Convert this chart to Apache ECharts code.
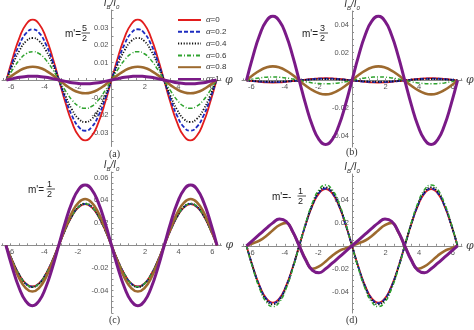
<!DOCTYPE html>
<html>
<head>
<meta charset="utf-8">
<script src="https://cdn.jsdelivr.net/npm/echarts@6/dist/echarts.min.js"></script>
<style>
html,body{margin:0;padding:0;background:#fff}
#c{width:474px;height:330px}
</style>
</head>
<body>
<div id="c"></div>
<script>
// Sample grid for the phase angle φ (steps of π/8 from -2π to 2π)
const phi = [-6.2832,-5.8905,-5.4978,-5.1051,-4.7124,-4.3197,-3.9270,-3.5343,-3.1416,-2.7489,-2.3562,-1.9635,-1.5708,-1.1781,-0.7854,-0.3927,0,
  0.3927,0.7854,1.1781,1.5708,1.9635,2.3562,2.7489,3.1416,3.5343,3.9270,4.3197,4.7124,5.1051,5.4978,5.8905,6.2832];

const alphaNames = ['α=0','α=0.2','α=0.4','α=0.6','α=0.8','α=1'];

// (a) m' = 5/2
const a_0  = [0,0.0132,0.0244,0.0319,0.0345,0.0319,0.0244,0.0132,0,-0.0132,-0.0244,-0.0319,-0.0345,-0.0319,-0.0244,-0.0132,0,0.0132,0.0244,0.0319,0.0345,0.0319,0.0244,0.0132,0,-0.0132,-0.0244,-0.0319,-0.0345,-0.0319,-0.0244,-0.0132,0];
const a_02 = [0,0.0111,0.0205,0.0268,0.0290,0.0268,0.0205,0.0111,0,-0.0111,-0.0205,-0.0268,-0.0290,-0.0268,-0.0205,-0.0111,0,0.0111,0.0205,0.0268,0.0290,0.0268,0.0205,0.0111,0,-0.0111,-0.0205,-0.0268,-0.0290,-0.0268,-0.0205,-0.0111,0];
const a_04 = [0,0.0092,0.0170,0.0222,0.0240,0.0222,0.0170,0.0092,0,-0.0092,-0.0170,-0.0222,-0.0240,-0.0222,-0.0170,-0.0092,0,0.0092,0.0170,0.0222,0.0240,0.0222,0.0170,0.0092,0,-0.0092,-0.0170,-0.0222,-0.0240,-0.0222,-0.0170,-0.0092,0];
const a_06 = [0,0.0062,0.0115,0.0150,0.0162,0.0150,0.0115,0.0062,0,-0.0062,-0.0115,-0.0150,-0.0162,-0.0150,-0.0115,-0.0062,0,0.0062,0.0115,0.0150,0.0162,0.0150,0.0115,0.0062,0,-0.0062,-0.0115,-0.0150,-0.0162,-0.0150,-0.0115,-0.0062,0];
const a_08 = [0,0.0029,0.0054,0.0070,0.0076,0.0070,0.0054,0.0029,0,-0.0029,-0.0054,-0.0070,-0.0076,-0.0070,-0.0054,-0.0029,0,0.0029,0.0054,0.0070,0.0076,0.0070,0.0054,0.0029,0,-0.0029,-0.0054,-0.0070,-0.0076,-0.0070,-0.0054,-0.0029,0];
const a_1  = [0,0.0008,0.0016,0.0020,0.0022,0.0020,0.0016,0.0008,0,-0.0008,-0.0016,-0.0020,-0.0022,-0.0020,-0.0016,-0.0008,0,0.0008,0.0016,0.0020,0.0022,0.0020,0.0016,0.0008,0,-0.0008,-0.0016,-0.0020,-0.0022,-0.0020,-0.0016,-0.0008,0];

// (b) m' = 3/2
const b_0  = [0,-0.0006,-0.0011,-0.0015,-0.0016,-0.0015,-0.0011,-0.0006,0,0.0006,0.0011,0.0015,0.0016,0.0015,0.0011,0.0006,0,-0.0006,-0.0011,-0.0015,-0.0016,-0.0015,-0.0011,-0.0006,0,0.0006,0.0011,0.0015,0.0016,0.0015,0.0011,0.0006,0];
const b_02 = [0,-0.0005,-0.0009,-0.0012,-0.0013,-0.0012,-0.0009,-0.0005,0,0.0005,0.0009,0.0012,0.0013,0.0012,0.0009,0.0005,0,-0.0005,-0.0009,-0.0012,-0.0013,-0.0012,-0.0009,-0.0005,0,0.0005,0.0009,0.0012,0.0013,0.0012,0.0009,0.0005,0];
const b_04 = [0,-0.0004,-0.0007,-0.0009,-0.0010,-0.0009,-0.0007,-0.0004,0,0.0004,0.0007,0.0009,0.0010,0.0009,0.0007,0.0004,0,-0.0004,-0.0007,-0.0009,-0.0010,-0.0009,-0.0007,-0.0004,0,0.0004,0.0007,0.0009,0.0010,0.0009,0.0007,0.0004,0];
const b_06 = [0,0.0010,0.0018,0.0023,0.0025,0.0023,0.0018,0.0010,0,-0.0010,-0.0018,-0.0023,-0.0025,-0.0023,-0.0018,-0.0010,0,0.0010,0.0018,0.0023,0.0025,0.0023,0.0018,0.0010,0,-0.0010,-0.0018,-0.0023,-0.0025,-0.0023,-0.0018,-0.0010,0];
const b_08 = [0,0.0039,0.0071,0.0093,0.0101,0.0093,0.0071,0.0039,0,-0.0039,-0.0071,-0.0093,-0.0101,-0.0093,-0.0071,-0.0039,0,0.0039,0.0071,0.0093,0.0101,0.0093,0.0071,0.0039,0,-0.0039,-0.0071,-0.0093,-0.0101,-0.0093,-0.0071,-0.0039,0];
const b_1  = [0,0.0177,0.0327,0.0427,0.0462,0.0427,0.0327,0.0177,0,-0.0177,-0.0327,-0.0427,-0.0462,-0.0427,-0.0327,-0.0177,0,0.0177,0.0327,0.0427,0.0462,0.0427,0.0327,0.0177,0,-0.0177,-0.0327,-0.0427,-0.0462,-0.0427,-0.0327,-0.0177,0];

// (c) m' = 1/2
const c_0  = [0,-0.0140,-0.0258,-0.0337,-0.0365,-0.0337,-0.0258,-0.0140,0,0.0140,0.0258,0.0337,0.0365,0.0337,0.0258,0.0140,0,-0.0140,-0.0258,-0.0337,-0.0365,-0.0337,-0.0258,-0.0140,0,0.0140,0.0258,0.0337,0.0365,0.0337,0.0258,0.0140,0];
const c_02 = [0,-0.0140,-0.0260,-0.0339,-0.0367,-0.0339,-0.0260,-0.0140,0,0.0140,0.0260,0.0339,0.0367,0.0339,0.0260,0.0140,0,-0.0140,-0.0260,-0.0339,-0.0367,-0.0339,-0.0260,-0.0140,0,0.0140,0.0260,0.0339,0.0367,0.0339,0.0260,0.0140,0];
const c_04 = [0,-0.0142,-0.0262,-0.0342,-0.0370,-0.0342,-0.0262,-0.0142,0,0.0142,0.0262,0.0342,0.0370,0.0342,0.0262,0.0142,0,-0.0142,-0.0262,-0.0342,-0.0370,-0.0342,-0.0262,-0.0142,0,0.0142,0.0262,0.0342,0.0370,0.0342,0.0262,0.0142,0];
const c_06 = [0,-0.0141,-0.0260,-0.0340,-0.0368,-0.0340,-0.0260,-0.0141,0,0.0141,0.0260,0.0340,0.0368,0.0340,0.0260,0.0141,0,-0.0141,-0.0260,-0.0340,-0.0368,-0.0340,-0.0260,-0.0141,0,0.0141,0.0260,0.0340,0.0368,0.0340,0.0260,0.0141,0];
const c_08 = [0,-0.0157,-0.0290,-0.0379,-0.0410,-0.0379,-0.0290,-0.0157,0,0.0157,0.0290,0.0379,0.0410,0.0379,0.0290,0.0157,0,-0.0157,-0.0290,-0.0379,-0.0410,-0.0379,-0.0290,-0.0157,0,0.0157,0.0290,0.0379,0.0410,0.0379,0.0290,0.0157,0];
const c_1  = [0,-0.0205,-0.0378,-0.0494,-0.0535,-0.0494,-0.0378,-0.0205,0,0.0205,0.0378,0.0494,0.0535,0.0494,0.0378,0.0205,0,-0.0205,-0.0378,-0.0494,-0.0535,-0.0494,-0.0378,-0.0205,0,0.0205,0.0378,0.0494,0.0535,0.0494,0.0378,0.0205,0];

// (d) m' = -1/2
const d_0  = [0,-0.0188,-0.0346,-0.0453,-0.0490,-0.0453,-0.0346,-0.0188,0,0.0188,0.0346,0.0453,0.0490,0.0453,0.0346,0.0188,0,-0.0188,-0.0346,-0.0453,-0.0490,-0.0453,-0.0346,-0.0188,0,0.0188,0.0346,0.0453,0.0490,0.0453,0.0346,0.0188,0];
const d_02 = [0,-0.0189,-0.0350,-0.0457,-0.0495,-0.0457,-0.0350,-0.0189,0,0.0189,0.0350,0.0457,0.0495,0.0457,0.0350,0.0189,0,-0.0189,-0.0350,-0.0457,-0.0495,-0.0457,-0.0350,-0.0189,0,0.0189,0.0350,0.0457,0.0495,0.0457,0.0350,0.0189,0];
const d_04 = [0,-0.0193,-0.0357,-0.0467,-0.0505,-0.0467,-0.0357,-0.0193,0,0.0193,0.0357,0.0467,0.0505,0.0467,0.0357,0.0193,0,-0.0193,-0.0357,-0.0467,-0.0505,-0.0467,-0.0357,-0.0193,0,0.0193,0.0357,0.0467,0.0505,0.0467,0.0357,0.0193,0];
const d_06 = [0,-0.0201,-0.0371,-0.0485,-0.0525,-0.0485,-0.0371,-0.0201,0,0.0201,0.0371,0.0485,0.0525,0.0485,0.0371,0.0201,0,-0.0201,-0.0371,-0.0485,-0.0525,-0.0485,-0.0371,-0.0201,0,0.0201,0.0371,0.0485,0.0525,0.0485,0.0371,0.0201,0];
const d_08 = [0,0.0022,0.0046,0.0085,0.0135,0.0178,0.0198,0.0120,0,-0.0120,-0.0198,-0.0178,-0.0135,-0.0085,-0.0046,-0.0022,0,0.0022,0.0046,0.0085,0.0135,0.0178,0.0198,0.0120,0,-0.0120,-0.0198,-0.0178,-0.0135,-0.0085,-0.0046,-0.0022,0];
const d_1  = [0,0.0050,0.0100,0.0150,0.0198,0.0232,0.0212,0.0125,0,-0.0125,-0.0212,-0.0232,-0.0198,-0.0150,-0.0100,-0.0050,0,0.0050,0.0100,0.0150,0.0198,0.0232,0.0212,0.0125,0,-0.0125,-0.0212,-0.0232,-0.0198,-0.0150,-0.0100,-0.0050,0];

// Tick labels
const xTickLabels = [-6,-4,-2,2,4,6];
const yTickLabelsA = [-0.03,-0.02,-0.01,0.01,0.02,0.03];
const yTickLabelsB = [-0.04,-0.02,0.02,0.04];
const yTickLabelsC = [-0.04,-0.02,0.02,0.04,0.06];
const yTickLabelsD = [-0.04,-0.02,0.02,0.04];

// Line styles per α, in drawing order
const lineStyles = [
  {color:'#e21d1d', width:1.8, type:'solid'},
  {color:'#1d2cc0', width:1.8, type:[4,2]},
  {color:'#111111', width:1.8, type:[1.2,1.6]},
  {color:'#2fa32f', width:1.5, type:[4,2,1,2]},
  {color:'#9d6a2f', width:2.6, type:'solid'},
  {color:'#7a1a87', width:3, type:'solid'}
];

const xRange = [-6.55, 6.55];
const panels = [
  {grid:{left:2,   top:10,  width:219, height:136.5}, y:[-0.038,0.040], labels:yTickLabelsA, series:[a_0,a_02,a_04,a_06,a_08,a_1]},
  {grid:{left:242, top:11,  width:220, height:136},   y:[-0.048,0.050], labels:yTickLabelsB, series:[b_0,b_02,b_04,b_06,b_08,b_1]},
  {grid:{left:1.5, top:172, width:220, height:141},   y:[-0.060,0.065], labels:yTickLabelsC, series:[c_0,c_02,c_04,c_06,c_08,c_1]},
  {grid:{left:242, top:174, width:220, height:139},   y:[-0.058,0.062], labels:yTickLabelsD, series:[d_0,d_02,d_04,d_06,d_08,d_1]}
];

function steps(lo, hi, step) {
  const out = [];
  for (let v = lo; v <= hi + 1e-9; v += step) {
    const r = Math.round(v / step) * step;
    if (Math.abs(r) > 1e-9) out.push(+r.toFixed(6));
  }
  return out;
}

const axisColor = '#8c8c8c';
const labelFont = 'Liberation Sans, Arial, sans-serif';

const grids = [], xAxes = [], yAxes = [], series = [];
panels.forEach((p, i) => {
  const g = p.grid;
  // axes cross at the origin: shift each axis inward from its grid edge
  const xOffset = -g.height * (0 - p.y[0]) / (p.y[1] - p.y[0]);
  const yOffset = -g.width * (0 - xRange[0]) / (xRange[1] - xRange[0]);
  grids.push(Object.assign({outerBoundsMode:'none', containLabel:false}, g));
  xAxes.push({
    type:'value', gridIndex:i, min:xRange[0], max:xRange[1], position:'bottom', offset:xOffset,
    axisLine:{onZero:false, lineStyle:{color:axisColor, width:1}},
    axisTick:{show:true, inside:true, length:2, customValues:steps(-6.5, 6.5, 0.5), lineStyle:{color:axisColor}},
    axisLabel:{customValues:xTickLabels, formatter:v => String(v), fontSize:7.5, color:'#555', margin:3, fontFamily:labelFont},
    splitLine:{show:false},
    name:'φ', nameLocation:'end', nameGap:4,
    nameTextStyle:{fontStyle:'italic', fontSize:11, color:'#444', fontFamily:'DejaVu Serif, serif'}
  });
  yAxes.push({
    type:'value', gridIndex:i, min:p.y[0], max:p.y[1], position:'left', offset:yOffset,
    axisLine:{onZero:false, lineStyle:{color:axisColor, width:1}},
    axisTick:{show:true, inside:true, length:2, customValues:steps(Math.ceil(p.y[0]/0.005)*0.005, p.y[1], 0.005), lineStyle:{color:axisColor}},
    axisLabel:{customValues:p.labels, formatter:v => v.toFixed(2), fontSize:7.5, color:'#555', margin:3, fontFamily:labelFont},
    splitLine:{show:false},
    name:'{i|I}{s|B}{i|/I}{s|0}', nameLocation:'end', nameGap:2,
    nameTextStyle:{
      fontFamily:labelFont, color:'#333',
      rich:{
        i:{fontStyle:'italic', fontSize:10, color:'#333', fontFamily:labelFont, lineHeight:12, verticalAlign:'bottom'},
        s:{fontStyle:'italic', fontSize:6, color:'#333', fontFamily:labelFont, lineHeight:12, verticalAlign:'bottom', padding:[0,0,-2,0]}
      }
    }
  });
  p.series.forEach((vals, j) => {
    const st = lineStyles[j];
    series.push({
      type:'line', name:alphaNames[j], xAxisIndex:i, yAxisIndex:i,
      data:phi.map((x, k) => [x, vals[k]]),
      symbol:'none', showSymbol:false, smooth:true, clip:false, silent:true,
      lineStyle:{color:st.color, width:st.width, type:st.type},
      itemStyle:{color:st.color},
      z:2 + j
    });
  });
});

// Panel captions and m' annotations
function fraction(x, yBar, num, den) {
  return [
    {type:'text', left:x - 3, top:yBar - 8.5, style:{text:num, fontSize:9, fill:'#222', fontFamily:labelFont}},
    {type:'line', shape:{x1:x - 3.5, y1:yBar, x2:x + 5, y2:yBar}, style:{stroke:'#222', lineWidth:0.8}},
    {type:'text', left:x - 3, top:yBar + 1.5, style:{text:den, fontSize:9, fill:'#222', fontFamily:labelFont}}
  ];
}
const graphics = [
  {type:'text', left:109, top:149, style:{text:'(a)', fontSize:10, fill:'#333', fontFamily:'Liberation Serif, serif'}},
  {type:'text', left:346, top:147, style:{text:'(b)', fontSize:10, fill:'#333', fontFamily:'Liberation Serif, serif'}},
  {type:'text', left:109, top:315, style:{text:'(c)', fontSize:10, fill:'#333', fontFamily:'Liberation Serif, serif'}},
  {type:'text', left:346, top:315, style:{text:'(d)', fontSize:10, fill:'#333', fontFamily:'Liberation Serif, serif'}},
  {type:'text', left:65,  top:29,  style:{text:"m'=", fontSize:10, fill:'#222', fontFamily:labelFont}},
  {type:'text', left:302, top:29,  style:{text:"m'=", fontSize:10, fill:'#222', fontFamily:labelFont}},
  {type:'text', left:28,  top:185, style:{text:"m'=", fontSize:10, fill:'#222', fontFamily:labelFont}},
  {type:'text', left:272, top:192, style:{text:"m'=-", fontSize:10, fill:'#222', fontFamily:labelFont}}
].concat(fraction(85, 33, '5', '2'), fraction(323, 33, '3', '2'), fraction(50, 189, '1', '2'), fraction(301, 196, '1', '2'));

const chart = echarts.init(document.getElementById('c'), null, {renderer:'canvas'});
chart.setOption({
  animation:false,
  backgroundColor:'#ffffff',
  grid:grids,
  xAxis:xAxes,
  yAxis:yAxes,
  legend:{
    data:alphaNames, orient:'vertical', left:172, top:11,
    itemWidth:23, itemHeight:8, itemGap:3.8, selectedMode:false,
    itemStyle:{opacity:0},
    formatter:n => '{g|α}' + n.slice(1),
    textStyle:{fontSize:8, color:'#333', fontFamily:labelFont, rich:{g:{fontStyle:'italic', fontSize:8, color:'#333', fontFamily:labelFont}}}
  },
  series:series,
  graphic:graphics
});
</script>
</body>
</html>
